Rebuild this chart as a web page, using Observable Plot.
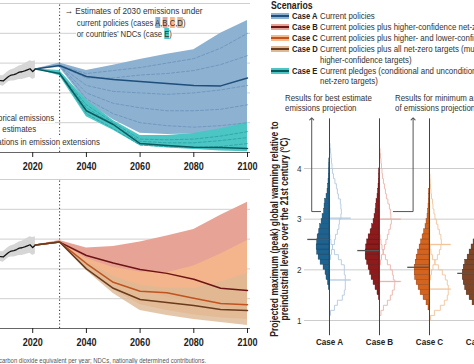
<!DOCTYPE html>
<html><head><meta charset="utf-8">
<script src="https://cdn.jsdelivr.net/npm/d3@7"></script>
<script src="https://cdn.jsdelivr.net/npm/@observablehq/plot@0.6"></script>
<style>
html,body{margin:0;padding:0;background:#fff;}
#root{position:relative;width:474px;height:364px;overflow:hidden;font-family:"Liberation Sans",Arial,sans-serif;color:#333;}
.abs{position:absolute;white-space:nowrap;}
.t{font-size:9.5px;line-height:11px;}
.bg{background:#fff;padding:0 1px;}
.b{font-weight:bold;color:#222;}
.hl{padding:0;}
</style></head><body><div id="root"></div><script>
// ---------- emissions data (GtCO2e / yr) ----------
const histYears = [2008,2009,2010,2011,2012,2013,2014,2015,2016,2017,2018,2019,2020,2021];
const histEmissions = [48.3,48,49.5,51,52,52.3,53,53.9,54.2,54.8,55.5,56.2,54.3,56];
const histLow = [45,44.5,46,47.5,48,48,48.5,49,49,49.5,50,50.5,49,50];
const histHigh = [51.5,51.5,53,54.5,55.5,56,57,58,58.5,59.5,60.5,61.5,61,61.5];

const projYears = [2021,2030,2040,2050,2060,2070,2080,2090,2100];
const caseA = [56,58.4,51,49,47.6,46.3,45,44.7,50];
const caseALow = [56,57,34,22,13,12,12.5,14,18];
const caseAHigh = [56,60,55,58.5,62.5,66,69,80,88.6];
const caseE = [56,53,28,18.8,6,4.7,3.6,3.3,2.7];
const caseELow = [56,51.5,24,15,4.5,3,2,1,0.5];
const caseEHigh = [56,55,35,21.5,11.4,11.4,12.7,16,20];

const caseB = [56,58,49,44,39.6,37,33,27,25.5];
const caseBLow = [56,57.5,44,32,25,21,17,14,12];
const caseBHigh = [56,59,54,55,58,62,66.4,76,84.8];
const caseC = [56,58,43.6,31,25,24,20.3,16.8,16];
const caseCLow = [56,57.5,41,26,16,12,9,7,6];
const caseCHigh = [56,58.2,47,41,38,37.5,42,50,59];
const caseD = [56,58,40,27,19.5,17.5,15.4,12.7,12];
const caseDLow = [56,57.5,39,23.5,12,8.7,6,4,2];
const caseDHigh = [56,58,45,35,29,27,27,31,37];

// emission-extension variations (dashed)
const extYears = [2030,2040,2050,2060,2070,2080,2090,2100];
const extA1 = [58.4,53,55,57,60,63,70,80];
const extA2 = [58.4,50,50,52,53,55,59,65];
const extA3 = [58.4,45,41,40,39,40,42,45];
const extA4 = [58.4,40,33,30,28,28,29,32];
const extA5 = [58.4,36,26,20,18,17,18,20];
const extE1 = [53,32,20,9,8.5,9,11,14];
const extE2 = [53,30,19,7.5,6.5,6.5,8,10];
const extE3 = [53,26,16,5,4,3.5,4,6];

const yearTicks = [2020,2040,2060,2080,2100];
const emisGrid = [20,40,60,80,100];

// ---------- peak warming histograms (°C) ----------
const binWidth = 0.1;
const binStarts = [0.9,1.0,1.1,1.2,1.3,1.4,1.5,1.6,1.7,1.8,1.9,2.0,2.1,2.2,2.3,2.4,2.5,2.6,2.7,2.8,2.9,3.0,3.1,3.2,3.3,3.4,3.5,3.6,3.7,3.8,3.9,4.0,4.1,4.2,4.3,4.4];
const bestA = [0,0,0,0,0,0,0,0.5,1.5,3,4,6,9,11,12.5,13,12.5,12,10.5,9.5,8,7,5.5,5,4.5,3,2,1.5,1,0.7,0.5,0.3,0.2,0,0,0];
const maxA  = [0,0,0,0,0,0,0,0,0,0,0,0,0,1,2,3,5,6,8,9.5,10,11.5,12,11.5,11,9,8,7,5.5,4,3,2.5,2,1.5,1,0.5];
const minA  = [0,0,1,5,8,13,15,16,16,16,15,15,12,9,5,3,1.5,0.5,0,0,0,0,0,0,0,0,0,0,0,0,0,0,0,0,0,0];
const bestB = [0,0,0,0,0,0.5,2,4,6,8,9.5,11,12.5,14,14,13.5,12.5,11,9,7.5,6,5,4,3.5,3,2,1.5,1,0.7,0.5,0.3,0,0,0,0,0];
const maxB  = [0,0,0,0,0,0,0,0,0,0,0,0,1,2,3.5,5,6.5,8,9.5,11,12,11.5,11,10,8.5,7,6,5,4,3,2.5,2,1.5,1,0.5,0];
const minB  = [0,0,1.5,4,8,11,13,15,15.5,14,13,11,8,6,4,2.5,1.5,0.5,0,0,0,0,0,0,0,0,0,0,0,0,0,0,0,0,0,0];
const bestC = [0,0,0,1,3,6,9,11,13,14.5,15,15,14,13,11.5,10,8.5,7,5.5,4,3,2,1.5,1,0.7,0.5,0.3,0,0,0,0,0,0,0,0,0];
const maxC  = [0,0,0,0,0,0,0,0,0,1,2,3.5,5.5,8,10,11.5,12,11.5,10,8.5,7,5.5,4.5,3.5,3,2,1.5,1,0.7,0.4,0,0,0,0,0,0];
const minC  = [0,1,5,11,15,18,19,19,18,16,13,9,5.5,3,1.5,0.5,0,0,0,0,0,0,0,0,0,0,0,0,0,0,0,0,0,0,0,0];
const bestD = [0,0,1.5,4,7,10,13,14.5,16,17,17,16,14.5,12,10,8,6,4,2.5,1.5,1,0.5,0,0,0,0,0,0,0,0,0,0,0,0,0,0];
const caseNames = ["Case A","Case B","Case C","Case D"];
const medianBest = [2.6,2.38,2.05,1.93];
const medianMax = [3.02,3.0,2.5];
const medianMin = [1.8,1.77,1.62];
const warmTicks = [1,2,3,4];

// ---------- colours ----------
const FONT = '"Liberation Sans",Arial,sans-serif';
const col = {
  A:{fill:"#8db1d1", line:"#1d4f7a", dash:"#6892b9", bar:"#1e628f", barStroke:"#0f3d5e", out:"#b3cadf"},
  B:{fill:"#e7a496", line:"#6d1414", bar:"#8e1b1b", barStroke:"#5a0c0c", out:"#ebb3a9"},
  C:{fill:"#f7b98a", line:"#c0531f", bar:"#d3641f", barStroke:"#8f3a0c", out:"#f2c49c"},
  D:{fill:"#ddb995", line:"#6a3b1c", bar:"#7e4626", barStroke:"#4e2812", out:"#d8b8a0"},
  E:{fill:"#4cc5c5", line:"#0b5b5e", dash:"#2a9fa2"}
};

const root = document.getElementById("root");
function place(el, left, top){ el.style.position="absolute"; el.style.left=left+"px"; el.style.top=top+"px"; root.appendChild(el); return el; }
function text(html, x, cy, opts = {}){
  const d = document.createElement("div");
  d.className = "abs t " + (opts.cls || "");
  d.innerHTML = html;
  d.style.top = (cy - 5.5) + "px";
  if (opts.right) { d.style.right = (474 - x) + "px"; d.style.transformOrigin = "right center"; }
  else { d.style.left = x + "px"; d.style.transformOrigin = "left center"; }
  d.style.transform = `scaleX(${opts.sx ?? 0.83})`;
  if (opts.style) Object.assign(d.style, opts.style);
  root.appendChild(d);
  return d;
}
// narrow the svg labels (the original uses a condensed face)
function condense(svg, factor){
  svg.querySelectorAll("text").forEach(t => {
    const len = t.getComputedTextLength();
    if (len > 0) { t.setAttribute("textLength", (len * factor).toFixed(2)); t.setAttribute("lengthAdjust", "spacingAndGlyphs"); }
  });
}

const rows = (ys, vals) => ys.map((year,i)=>({year, v: vals[i]}));
const bandRows = (ys, lo, hi) => ys.map((year,i)=>({year, lo: lo[i], hi: hi[i]}));
const histRows = histYears.map((year,i)=>({year, v: histEmissions[i], lo: histLow[i], hi: histHigh[i]}));

function emissionsChart(bands, lines, dashes){
  return Plot.plot({
    width: 250, height: 175, marginLeft: 0, marginRight: 0, marginTop: 0, marginBottom: 23,
    x: {domain: [2008, 2100], range: [0, 247]},
    y: {domain: [0, 100], range: [152, 3], axis: null},
    style: {fontFamily: FONT, fontSize: "11px", color: "#555", overflow: "visible", background: "transparent"},
    marks: [
      Plot.gridY(emisGrid, {stroke: "#cfcfcf", strokeOpacity: 1}),
      Plot.areaY(histRows, {x: "year", y1: "lo", y2: "hi", fill: "#d6d6d6"}),
      ...bands.map(b => Plot.areaY(bandRows(projYears, b.lo, b.hi), {x: "year", y1: "lo", y2: "hi", fill: b.fill, fillOpacity: b.op ?? 1})),
      ...dashes.map(d => Plot.line(rows(extYears, d.v), {x: "year", y: "v", stroke: d.stroke, strokeWidth: 0.8, strokeDasharray: "3,2"})),
      Plot.ruleX([2030], {y1: 0, y2: 100, stroke: "#444", strokeWidth: 1.1, strokeDasharray: "1.2,2.2"}),
      Plot.line(histRows, {x: "year", y: "v", stroke: "#111", strokeWidth: 1.3}),
      ...lines.map(l => Plot.line(rows(projYears, l.v), {x: "year", y: "v", stroke: l.stroke, strokeWidth: 1.5})),
      Plot.ruleY([0], {stroke: "#666", strokeWidth: 1}),
      Plot.axisX({ticks: yearTicks, tickFormat: d => String(d), tickSize: 5, tickPadding: 5, fontWeight: "bold", fontSize: 11, label: null, color: "#222"})
    ]
  });
}

const top1 = emissionsChart(
  [{lo: caseALow, hi: caseAHigh, fill: col.A.fill}, {lo: caseELow, hi: caseEHigh, fill: col.E.fill}],
  [{v: caseA, stroke: col.A.line}, {v: caseE, stroke: col.E.line}],
  [extA1,extA2,extA3,extA4,extA5].map(v=>({v, stroke: col.A.dash})).concat([extE1,extE2,extE3].map(v=>({v, stroke: col.E.dash})))
);
place(top1, 0, 0); condense(top1, 0.82);

const bottom1 = emissionsChart(
  [{lo: caseBLow, hi: caseBHigh, fill: col.B.fill}, {lo: caseCLow, hi: caseCHigh, fill: col.C.fill, op: 0.8}, {lo: caseDLow, hi: caseDHigh, fill: col.D.fill, op: 0.8}],
  [{v: caseB, stroke: col.B.line}, {v: caseC, stroke: col.C.line}, {v: caseD, stroke: col.D.line}],
  []
);
place(bottom1, 0, 176); condense(bottom1, 0.82);

// ---------- right panel ----------
const keys = ["A","B","C","D"];
const bestSets = [bestA,bestB,bestC,bestD];
const bestRows = [];
bestSets.forEach((counts, ci) => counts.forEach((n,i) => { if(n>0) bestRows.push({case: caseNames[ci], k: keys[ci], lo: binStarts[i], hi: binStarts[i]+binWidth, n}); }));
function outline(ci, kind, counts){
  const first = counts.findIndex(n=>n>0);
  let last = counts.length-1; while(counts[last]===0) last--;
  const base = {case: caseNames[ci], k: keys[ci], key: caseNames[ci]+kind};
  const pts = [{...base, x: 0, y: binStarts[first]}];
  for(let i=first;i<=last;i++){ pts.push({...base, x: counts[i], y: binStarts[i]}); pts.push({...base, x: counts[i], y: binStarts[i]+binWidth}); }
  pts.push({...base, x: 0, y: binStarts[last]+binWidth});
  return pts;
}
const outlineRows = [].concat(outline(0,"max",maxA), outline(0,"min",minA), outline(1,"max",maxB), outline(1,"min",minB), outline(2,"max",maxC), outline(2,"min",minC));
const medBestRows = medianBest.map((t,i)=>({case: caseNames[i], t}));
const medOutRows = medianMax.map((t,i)=>({case: caseNames[i], k: keys[i], t})).concat(medianMin.map((t,i)=>({case: caseNames[i], k: keys[i], t})));
const connectors = [
  {case: "Case A", key: "a", x: -9, y: 3.15}, {case: "Case A", key: "a", x: -18, y: 3.15}, {case: "Case A", key: "a", x: -18, y: 4.98},
  {case: "Case B", key: "b", x: 14, y: 3.15}, {case: "Case B", key: "b", x: 34, y: 3.15}, {case: "Case B", key: "b", x: 34, y: 4.98}
];

const right = Plot.plot({
  width: 215, height: 272, marginLeft: 12, marginRight: 0, marginTop: 0, marginBottom: 26,
  fx: {domain: caseNames, padding: 0, label: null},
  x: {domain: [-25.3, 25.3], axis: null},
  y: {domain: [1, 4], range: [232, 80]},
  style: {fontFamily: FONT, fontSize: "10px", color: "#333", overflow: "visible", background: "transparent"},
  marks: [
    Plot.gridY(warmTicks, {stroke: "#cccccc", strokeOpacity: 1}),
    Plot.axisY({ticks: warmTicks, tickFormat: d => String(d), tickSize: 0, tickPadding: 3, label: null, fontSize: 9.5}),
    Plot.axisFx({anchor: "bottom", tickSize: 0, tickPadding: 3.5, fontWeight: "bold", fontSize: 9.5, label: null, color: "#222"}),
    Plot.line(outlineRows, {fx: "case", x: "x", y: "y", z: "key", stroke: d => col[d.k].out, strokeWidth: 0.9}),
    Plot.rectX(bestRows, {fx: "case", x1: d => -d.n, x2: 0, y1: "lo", y2: "hi", fill: d => col[d.k].bar, stroke: d => col[d.k].barStroke, strokeWidth: 0.4}),
    Plot.ruleY(medOutRows, {fx: "case", y: "t", x1: 0, x2: 22, stroke: d => col[d.k].out, strokeWidth: 1.3}),
    Plot.ruleX(caseNames, {fx: d => d, x: 0, y1: 0.7, y2: 4.98, stroke: "#444", strokeWidth: 1}),
    Plot.ruleY(medBestRows, {fx: "case", y: "t", x1: -22, x2: 0, stroke: "#555", strokeWidth: 1.3}),
    Plot.line(connectors, {fx: "case", x: "x", y: "y", z: "key", stroke: "#555", strokeWidth: 1, markerEnd: "arrow"})
  ]
});
place(right, 290, 88); condense(right, 0.85);

// ---------- texts ----------
const sw = (c) => `<span style="display:inline-block;width:18px;height:6px;background:${c.fill};position:relative;vertical-align:middle"><span style="position:absolute;left:0;right:0;top:2.2px;height:1.6px;background:${c.line}"></span></span>`;
text('→ Estimates of 2030 emissions under', 64, 10, {cls: "bg", sx: 0.86});
text(`current policies (cases <span class="hl" style="background:${col.A.fill}">A</span>,<span class="hl" style="background:${col.B.fill}">B</span>,<span class="hl" style="background:${col.C.fill}">C</span>,<span class="hl" style="background:${col.D.fill}">D</span>)`, 76, 22, {cls: "bg", sx: 0.81});
text(`or countries’ NDCs (case <span class="hl" style="background:${col.E.fill}">E</span>)`, 76, 33.5, {cls: "bg", sx: 0.81});
text('Historical emissions', 55, 117, {cls: "bg", right: true});
text('Range of hist. estimates', 37, 128, {cls: "bg", right: true});
text('Variations in emission extensions', 101, 141, {cls: "bg", right: true});

text('Scenarios', 271, 5, {cls: "b", style: {fontSize: "10.5px"}});
const legendRows = [
  ["A", "Current policies", 15.5],
  ["B", "Current policies plus higher-confidence net-zero targets", 26.5],
  ["C", "Current policies plus higher- and lower-confidence net-zero targets", 37.5],
  ["D", "Current policies plus all net-zero targets (multiple", 48],
  ["E", "Current pledges (conditional and unconditional NDCs plus", 70]
];
legendRows.forEach(([k, label, y]) => {
  const s = document.createElement("div"); s.className = "abs"; s.style.lineHeight = "6px"; s.innerHTML = sw(col[k]); place(s, 271, y - 3);
  text("Case " + k, 292, y, {cls: "b", sx: 0.8});
  text(label, 320, y);
});
text("higher-confidence targets)", 320, 59);
text("net-zero targets)", 320, 80.5);

text("Results for best estimate", 285, 97);
text("emissions projection", 285, 107.5);
text("Results for minimum and maximum", 395, 97);
text("of emissions projections", 395, 107.5);

const ylab = document.createElement("div");
ylab.className = "abs b";
ylab.style.cssText += "font-size:10px;line-height:10px;text-align:center;transform:translate(-50%,-50%) rotate(-90deg) scaleX(0.85);";
ylab.innerHTML = "Projected maximum (peak) global warming relative to<br>preindustrial levels over the 21st century (°C)";
place(ylab, 280, 229);

text("carbon dioxide equivalent per year; NDCs, nationally determined contributions.", -1, 360, {sx: 0.85, style: {fontSize: "7px", color: "#555"}});
</script></body></html>
